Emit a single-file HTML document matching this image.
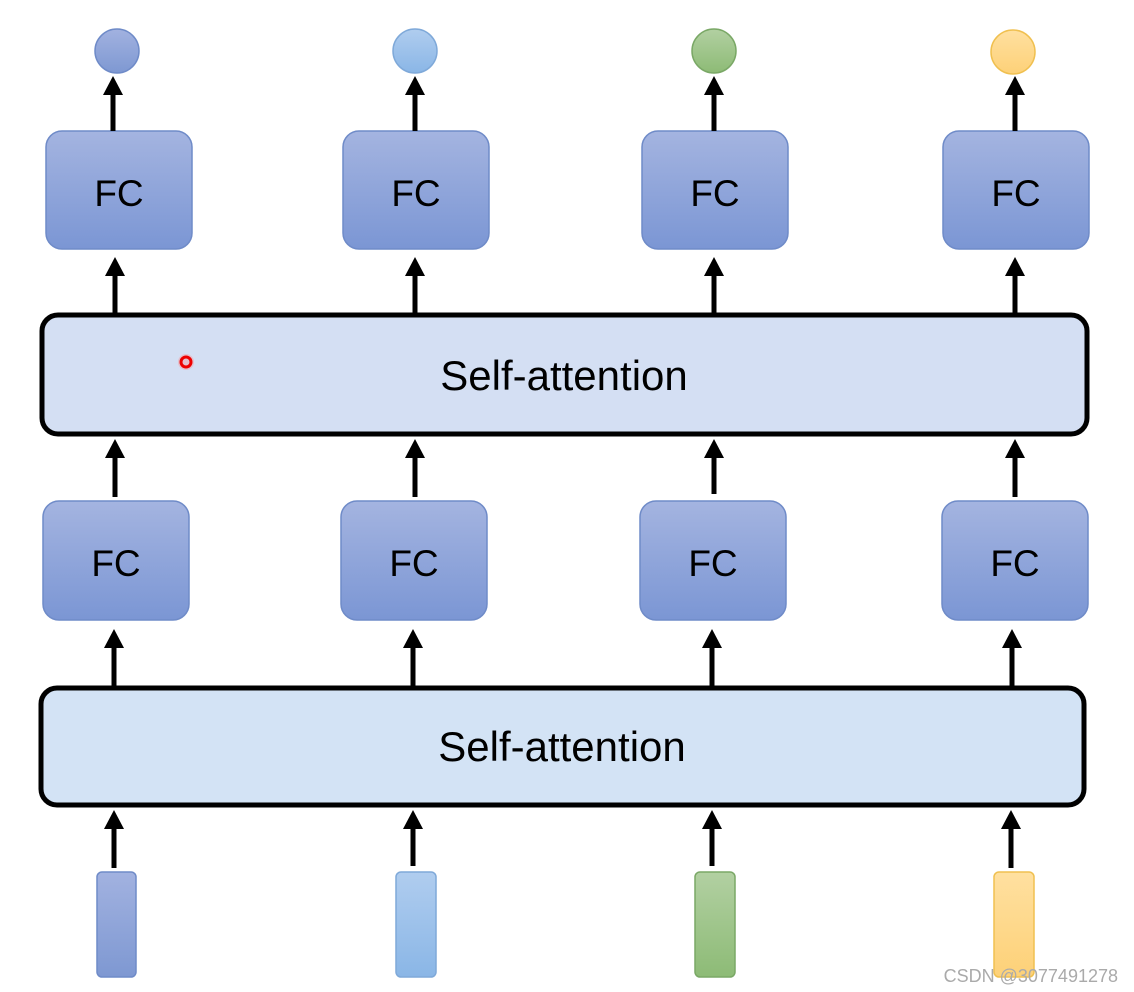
<!DOCTYPE html>
<html><head><style>body{margin:0;background:#fff}svg{display:block}</style></head><body>
<svg width="1134" height="992" viewBox="0 0 1134 992" xmlns="http://www.w3.org/2000/svg">
<defs>
<linearGradient id="fc" x1="0" y1="0" x2="0" y2="1"><stop offset="0" stop-color="#a4b4e0"/><stop offset="1" stop-color="#7b96d4"/></linearGradient>
<linearGradient id="c1" x1="0" y1="0" x2="0" y2="1"><stop offset="0" stop-color="#a2b2e0"/><stop offset="1" stop-color="#7e98d2"/></linearGradient>
<linearGradient id="c2" x1="0" y1="0" x2="0" y2="1"><stop offset="0" stop-color="#b0cdef"/><stop offset="1" stop-color="#8ab6e6"/></linearGradient>
<linearGradient id="c3" x1="0" y1="0" x2="0" y2="1"><stop offset="0" stop-color="#b2d0a2"/><stop offset="1" stop-color="#8dbb76"/></linearGradient>
<linearGradient id="c4" x1="0" y1="0" x2="0" y2="1"><stop offset="0" stop-color="#ffe0a0"/><stop offset="1" stop-color="#fdd178"/></linearGradient>
<marker id="ah" markerWidth="4" markerHeight="4" refX="0.2" refY="2" orient="auto" markerUnits="strokeWidth"><path d="M0,0 L3.8,2 L0,4 Z" fill="#000"/></marker>
</defs>
<g stroke="#6f8bc8" stroke-width="1.5">
<circle cx="117" cy="51" r="22" fill="url(#c1)"/>
<circle cx="415" cy="51" r="22" fill="url(#c2)" stroke="#7fa9d9"/>
<circle cx="714" cy="51" r="22" fill="url(#c3)" stroke="#7aa866"/>
<circle cx="1013" cy="52" r="22" fill="url(#c4)" stroke="#f0c050"/>
<rect x="46" y="131" width="146" height="118" rx="16" fill="url(#fc)"/>
<rect x="343" y="131" width="146" height="118" rx="16" fill="url(#fc)"/>
<rect x="642" y="131" width="146" height="118" rx="16" fill="url(#fc)"/>
<rect x="943" y="131" width="146" height="118" rx="16" fill="url(#fc)"/>
<rect x="43" y="501" width="146" height="119" rx="16" fill="url(#fc)"/>
<rect x="341" y="501" width="146" height="119" rx="16" fill="url(#fc)"/>
<rect x="640" y="501" width="146" height="119" rx="16" fill="url(#fc)"/>
<rect x="942" y="501" width="146" height="119" rx="16" fill="url(#fc)"/>
<rect x="97" y="872" width="39" height="105" rx="5" fill="url(#c1)"/>
<rect x="396" y="872" width="40" height="105" rx="5" fill="url(#c2)" stroke="#7fa9d9"/>
<rect x="695" y="872" width="40" height="105" rx="5" fill="url(#c3)" stroke="#7aa866"/>
<rect x="994" y="872" width="40" height="105" rx="5" fill="url(#c4)" stroke="#f0c050"/>
</g>
<rect x="42" y="315" width="1045" height="119" rx="16" fill="#d4dff3" stroke="#000" stroke-width="5"/>
<rect x="41" y="688" width="1043" height="117" rx="16" fill="#d3e3f5" stroke="#000" stroke-width="5"/>
<g stroke="#000" stroke-width="5" marker-end="url(#ah)">
<line x1="113" y1="131" x2="113" y2="94"/><line x1="415" y1="131" x2="415" y2="94"/><line x1="714" y1="131" x2="714" y2="94"/><line x1="1015" y1="131" x2="1015" y2="94"/>
<line x1="115" y1="313" x2="115" y2="275"/><line x1="415" y1="313" x2="415" y2="275"/><line x1="714" y1="313" x2="714" y2="275"/><line x1="1015" y1="313" x2="1015" y2="275"/>
<line x1="115" y1="497" x2="115" y2="457"/><line x1="415" y1="497" x2="415" y2="457"/><line x1="714" y1="494" x2="714" y2="457"/><line x1="1015" y1="497" x2="1015" y2="457"/>
<line x1="114" y1="686" x2="114" y2="647"/><line x1="413" y1="686" x2="413" y2="647"/><line x1="712" y1="686" x2="712" y2="647"/><line x1="1012" y1="686" x2="1012" y2="647"/>
<line x1="114" y1="868" x2="114" y2="828"/><line x1="413" y1="866" x2="413" y2="828"/><line x1="712" y1="866" x2="712" y2="828"/><line x1="1011" y1="868" x2="1011" y2="828"/>
</g>
<g font-family="Liberation Sans, sans-serif" font-size="37" fill="#000" text-anchor="middle">
<text x="119" y="206">FC</text><text x="416" y="206">FC</text><text x="715" y="206">FC</text><text x="1016" y="206">FC</text>
<text x="116" y="576">FC</text><text x="414" y="576">FC</text><text x="713" y="576">FC</text><text x="1015" y="576">FC</text>
<text x="564" y="390" font-size="42">Self-attention</text>
<text x="562" y="761" font-size="42">Self-attention</text>
</g>
<circle cx="186" cy="362" r="8" fill="#f88" opacity="0.35"/>
<circle cx="186" cy="362" r="5" fill="none" stroke="#e00" stroke-width="3"/>
<text x="1118" y="982" font-family="Liberation Sans, sans-serif" font-size="18" fill="#aaa" text-anchor="end">CSDN @3077491278</text>
</svg>
</body></html>
